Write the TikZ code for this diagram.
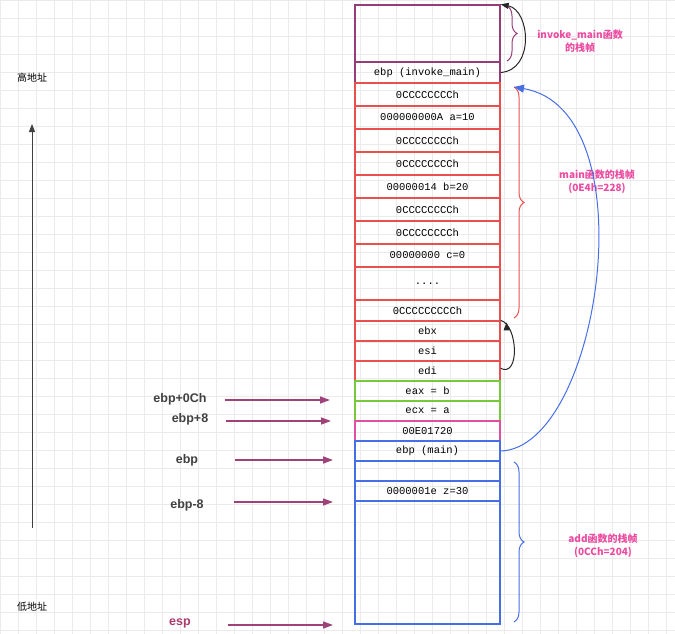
\documentclass[tikz,border=0pt]{standalone}
\usepackage{fontspec}
\setmainfont{Liberation Sans}
\newfontfamily\cjk{Noto Sans CJK SC}
\newfontfamily\cellfont{Liberation Mono}
\usetikzlibrary{decorations.pathreplacing,arrows.meta}
\definecolor{frameRed}{RGB}{232,80,80}
\definecolor{frameBlue}{RGB}{70,110,230}
\definecolor{frameGreen}{RGB}{120,200,60}
\definecolor{framePink}{RGB}{225,80,160}
\definecolor{framePurple}{RGB}{150,60,120}
\definecolor{labelPink}{RGB}{235,75,160}
\definecolor{ptrPurple}{RGB}{160,66,122}
\tikzset{every picture/.style={line width=0.75pt}}
\tikzset{
  cell/.style={draw, line width=1.3pt, minimum width=145pt, inner sep=0pt, font=\cellfont\fontsize{10.5}{11}\selectfont},
  ptr/.style={ptrPurple, line width=1.3pt, -{Triangle[length=10pt,width=7pt]}},
  side/.style={font=\bfseries\fontsize{12.5}{13}\selectfont, text=black!75},
  frame/.style={font=\cjk\bfseries\fontsize{10}{13}\selectfont, text=labelPink, align=center},
  brace/.style={decorate, decoration={brace, amplitude=10pt}, line width=1pt}
}
\begin{document}
\begin{tikzpicture}[x=1pt,y=-1pt]
\useasboundingbox (0,0) rectangle (675,634);
% grid
\draw [black!8, line width=0.5pt, step=18pt] (0,0) grid (675,634);

% invoke_main frame
\node [cell, draw=framePurple, minimum height=57pt] (inv) at (427.5,33.5) {};
\node [cell, draw=framePurple, minimum height=21pt] (invebp) at (427.5,72.5) {ebp (invoke\_main)};

% main frame
\node [cell, draw=frameRed, minimum height=23pt] (m1) at (427.5,94.5) {0CCCCCCCCh};
\node [cell, draw=frameRed, minimum height=23pt] (m2) at (427.5,117.5) {000000000A a=10};
\node [cell, draw=frameRed, minimum height=23pt] (m3) at (427.5,140.5) {0CCCCCCCCh};
\node [cell, draw=frameRed, minimum height=23pt] (m4) at (427.5,163.5) {0CCCCCCCCh};
\node [cell, draw=frameRed, minimum height=23pt] (m5) at (427.5,186.5) {00000014 b=20};
\node [cell, draw=frameRed, minimum height=23pt] (m6) at (427.5,209.5) {0CCCCCCCCh};
\node [cell, draw=frameRed, minimum height=23pt] (m7) at (427.5,232.5) {0CCCCCCCCh};
\node [cell, draw=frameRed, minimum height=23pt] (m8) at (427.5,255.5) {00000000 c=0};
\node [cell, draw=frameRed, minimum height=33pt] (m9) at (427.5,283.5) {....};
\node [cell, draw=frameRed, minimum height=21pt] (m10) at (427.5,310.5) {0CCCCCCCCCh};
\node [cell, draw=frameRed, minimum height=20pt] (ebx) at (427.5,331) {ebx};
\node [cell, draw=frameRed, minimum height=20pt] (esi) at (427.5,351) {esi};
\node [cell, draw=frameRed, minimum height=20pt] (edi) at (427.5,371) {edi};

% arguments and return address
\node [cell, draw=frameGreen, minimum height=20pt] (eax) at (427.5,391) {eax = b};
\node [cell, draw=frameGreen, minimum height=20pt] (ecx) at (427.5,411) {ecx = a};
\node [cell, draw=framePink, minimum height=20pt] (ret) at (427.5,431) {00E01720};

% add frame
\node [cell, draw=frameBlue, minimum height=20pt] (mainebp) at (427.5,451) {ebp (main)};
\node [cell, draw=frameBlue, minimum height=20pt] (a1) at (427.5,471) {};
\node [cell, draw=frameBlue, minimum height=20pt] (a2) at (427.5,491) {0000001e z=30};
\node [cell, draw=frameBlue, minimum height=123pt] (a3) at (427.5,562.5) {};

% braces and frame labels
\draw [brace, framePurple] (507,6) -- (507,61);
\node [frame] (invlbl) at (580,41) {invoke\_main函数\\的栈帧};
\draw [brace, frameRed] (514,87) -- (514,318);
\node [frame] (mainlbl) at (597,182) {main函数的栈帧\\(0E4h=228)};
\draw [brace, frameBlue] (514,462) -- (514,622);
\node [frame] (addlbl) at (603,546) {add函数的栈帧\\(0CCh=204)};

% saved ebp links
\draw [-{Triangle[length=8pt,width=6pt]}, black!85, line width=1pt] (invebp.east) .. controls (535,70) and (530,10) .. (inv.north east);
\draw [-{Triangle[length=8pt,width=6pt]}, black!85, line width=1pt] (edi.north east) ++(0,8) .. controls (520,378) and (518,325) .. (ebx.north east) ++(6,2);
\draw [-{Triangle[length=10pt,width=8pt]}, frameBlue, line width=1pt] (mainebp.east) .. controls (600,448) and (650,110) .. (514,87);

% address direction
\node [font=\cjk\fontsize{10}{12}\selectfont] (high) at (32,78) {高地址};
\node [font=\cjk\fontsize{10}{12}\selectfont] (low) at (32,607) {低地址};
\coordinate (upEnd) at (32,124);
\coordinate (upStart) at (32,528);
\draw [-{Triangle[length=8pt,width=6pt]}, black!75, line width=1pt] (upStart) -- (upEnd);

% pointers
\node [side] (p0c) at (180,399) {ebp+0Ch};
\node [side] (p8) at (190,419) {ebp+8};
\node [side] (pebp) at (187,460) {ebp};
\node [side] (pm8) at (187,505) {ebp-8};
\node [side, text=ptrPurple!90!red] (pesp) at (180,623) {esp};
\coordinate (t0c) at (330,400);
\coordinate (t8) at (331,421);
\coordinate (tebp) at (333,460);
\coordinate (tm8) at (333,502);
\coordinate (tesp) at (333,625);
\draw [ptr] (225,400) -- (t0c);
\draw [ptr] (226,421) -- (t8);
\draw [ptr] (235,460) -- (tebp);
\draw [ptr] (234,502) -- (tm8);
\draw [ptr] (228,625) -- (tesp);
\end{tikzpicture}
\end{document}
